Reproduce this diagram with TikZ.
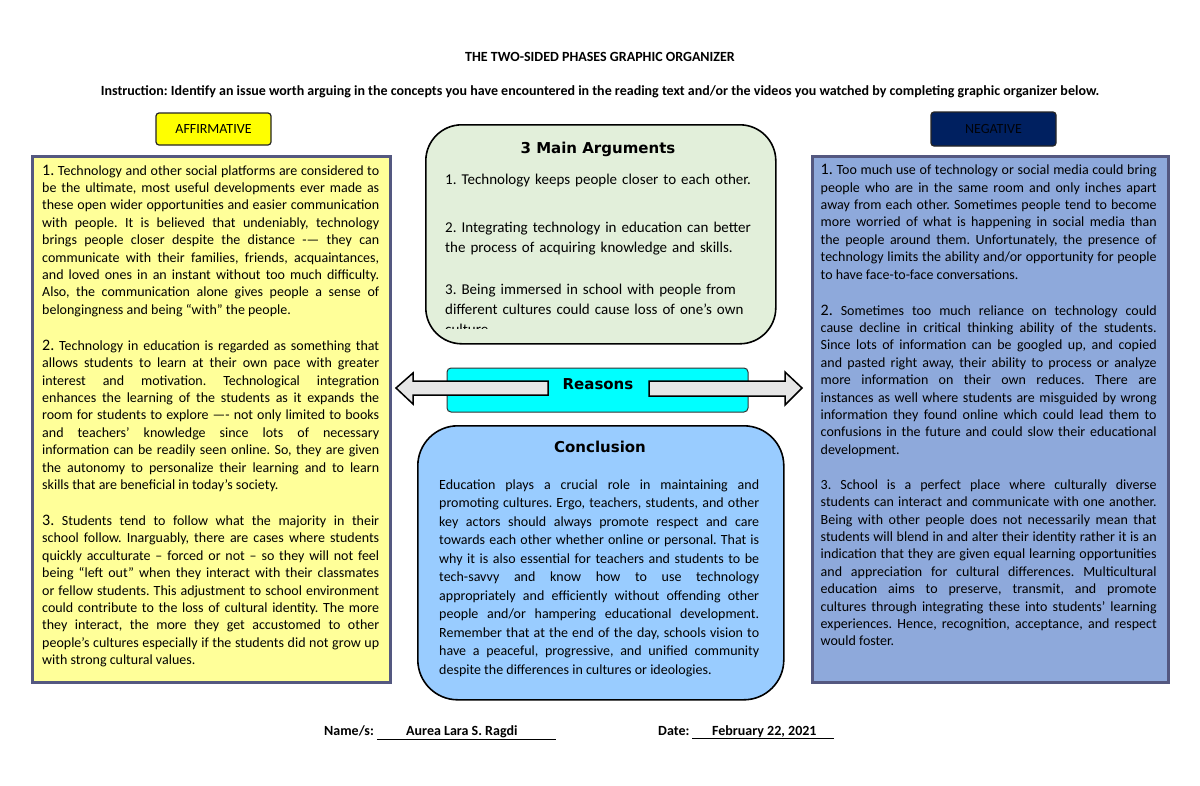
\documentclass[tikz,border=0pt]{standalone}
\usepackage{fontspec}
\setmainfont{Carlito}
\newfontfamily\headfont{DejaVu Sans}
\usepackage{tikz}
\usetikzlibrary{positioning}
\frenchspacing

\definecolor{affirmfill}{RGB}{255,255,153}
\definecolor{negfill}{RGB}{142,169,219}
\definecolor{argfill}{RGB}{226,239,218}
\definecolor{conclfill}{RGB}{153,204,255}
\definecolor{reasonfill}{RGB}{0,255,255}
\definecolor{arrowfill}{RGB}{230,230,230}
\definecolor{tagyellow}{RGB}{255,255,0}
\definecolor{tagnavy}{RGB}{0,32,96}
\definecolor{sideborder}{RGB}{84,88,128}

\newcommand{\bignum}[1]{{\fontsize{16}{17.4}\selectfont #1}}

\begin{document}
\begin{tikzpicture}[x=1pt,y=-1pt]

\tikzstyle{sidebox}=[draw=sideborder, line width=2.5pt, anchor=north west, inner sep=0pt]
\tikzstyle{sidetext}=[anchor=north west, inner sep=0pt, text width=337pt, align=justify, font=\fontsize{14}{17.4}\selectfont]
\tikzstyle{roundbox}=[draw=black, line width=1.6pt, rounded corners=36pt, anchor=north west, inner sep=0pt]
\tikzstyle{heading}=[anchor=base, inner sep=0pt, font=\headfont\bfseries\fontsize{15}{18}\selectfont]
\tikzstyle{tag}=[draw=black!85, line width=1.2pt, rounded corners=3pt, font=\fontsize{14}{17}\selectfont]
\tikzstyle{widearrow}=[draw=black, line width=1.5pt, fill=arrowfill, line join=miter]
\tikzstyle{header}=[anchor=base, inner sep=0pt, font=\bfseries\fontsize{14}{17}\selectfont]

\path[fill=white, use as bounding box] (0,0) rectangle (1200,785);

\node[header] (title) at (600,61) {THE TWO-SIDED PHASES GRAPHIC ORGANIZER};
\node[header] (instruction) at (600,95) {Instruction: Identify an issue worth arguing in the concepts you have encountered in the reading text and/or the videos you watched by completing graphic organizer below.};

\node[tag, fill=tagyellow, minimum width=115pt, minimum height=32pt] (affirmative) at (213.5,129) {AFFIRMATIVE};
\node[tag, fill=tagnavy, text=black!90!tagnavy, minimum width=125pt, minimum height=34pt] (negative) at (993.5,129) {NEGATIVE};

% affirmative side
\node[sidebox, fill=affirmfill, minimum width=358pt, minimum height=526pt] (affirm_box) at (31,155) {};
\node[sidetext] (affirm_text) at (42,162.8) {\strut\bignum{1.} Technology and other social platforms are considered to\linebreak
be the ultimate, most useful developments ever made as\linebreak
these open wider opportunities and easier communication\linebreak
with people. It is believed that undeniably, technology\linebreak
brings people closer despite the distance -— they can\linebreak
communicate with their families, friends, acquaintances,\linebreak
and loved ones in an instant without too much difficulty.\linebreak
Also, the communication alone gives people a sense of\linebreak
belongingness and being “with” the people.\par\vspace{18.6pt}
\bignum{2.} Technology in education is regarded as something that\linebreak
allows students to learn at their own pace with greater\linebreak
interest and motivation. Technological integration\linebreak
enhances the learning of the students as it expands the\linebreak
room for students to explore —- not only limited to books\linebreak
and teachers’ knowledge since lots of necessary\linebreak
information can be readily seen online. So, they are given\linebreak
the autonomy to personalize their learning and to learn\linebreak
skills that are beneficial in today’s society.\par\vspace{18.6pt}
\bignum{3.} Students tend to follow what the majority in their\linebreak
school follow. Inarguably, there are cases where students\linebreak
quickly acculturate – forced or not – so they will not feel\linebreak
being “left out” when they interact with their classmates\linebreak
or fellow students. This adjustment to school environment\linebreak
could contribute to the loss of cultural identity. The more\linebreak
they interact, the more they get accustomed to other\linebreak
people’s cultures especially if the students did not grow up\linebreak
with strong cultural values.};

% negative side
\node[sidebox, fill=negfill, minimum width=356pt, minimum height=526pt] (neg_box) at (811,155) {};
\node[sidetext, text width=336pt] (neg_text) at (820.5,162.3) {\strut\bignum{1.} Too much use of technology or social media could bring\linebreak
people who are in the same room and only inches apart\linebreak
away from each other. Sometimes people tend to become\linebreak
more worried of what is happening in social media than\linebreak
the people around them. Unfortunately, the presence of\linebreak
technology limits the ability and/or opportunity for people\linebreak
to have face-to-face conversations.\par\vspace{18.6pt}
\bignum{2.} Sometimes too much reliance on technology could\linebreak
cause decline in critical thinking ability of the students.\linebreak
Since lots of information can be googled up, and copied\linebreak
and pasted right away, their ability to process or analyze\linebreak
more information on their own reduces. There are\linebreak
instances as well where students are misguided by wrong\linebreak
information they found online which could lead them to\linebreak
confusions in the future and could slow their educational\linebreak
development.\par\vspace{17.6pt}
3. School is a perfect place where culturally diverse\linebreak
students can interact and communicate with one another.\linebreak
Being with other people does not necessarily mean that\linebreak
students will blend in and alter their identity rather it is an\linebreak
indication that they are given equal learning opportunities\linebreak
and appreciation for cultural differences. Multicultural\linebreak
education aims to preserve, transmit, and promote\linebreak
cultures through integrating these into students’ learning\linebreak
experiences. Hence, recognition, acceptance, and respect\linebreak
would foster.};

% main arguments
\node[roundbox, fill=argfill, minimum width=350pt, minimum height=219pt] (arg_box) at (425,124) {};
\node[heading] (arg_title) at (598,153) {3 Main Arguments};
\begin{scope}
\clip (425,124) rectangle (775,328);
\node[anchor=north west, inner sep=0pt, text width=325pt, align=left, font=\fontsize{15}{20}\selectfont] (arg_list) at (445,170) {\strut 1. Technology keeps people closer to each other.\\[28pt]
2. Integrating technology in education can better\\
the process of acquiring knowledge and skills.\\[22pt]
3. Being immersed in school with people from\\
different cultures could cause loss of one’s own\\
culture.};
\end{scope}

% reasons
\node[draw=black!80, line width=1pt, rounded corners=4pt, fill=reasonfill, minimum width=301pt, minimum height=44pt, inner sep=0pt] (reason_box) at (597.5,390) {};
\draw[widearrow] (396,388) -- (413,373) -- (413,381) -- (548,381) -- (548,395) -- (413,395) -- (413,404) -- cycle;
\draw[widearrow] (649,381) -- (785,381) -- (785,372) -- (802,388) -- (785,405) -- (785,396) -- (649,396) -- cycle;
\node[heading] (reason_title) at (598,389) {Reasons};

% conclusion
\node[roundbox, rounded corners=40pt, fill=conclfill, minimum width=366pt, minimum height=274pt] (concl_box) at (417,425) {};
\node[heading] (concl_title) at (600,452) {Conclusion};
\node[sidetext, text width=320pt, font=\fontsize{14}{18.5}\selectfont] (concl_text) at (439,476) {\strut Education plays a crucial role in maintaining and\linebreak
promoting cultures. Ergo, teachers, students, and other\linebreak
key actors should always promote respect and care\linebreak
towards each other whether online or personal. That is\linebreak
why it is also essential for teachers and students to be\linebreak
tech-savvy and know how to use technology\linebreak
appropriately and efficiently without offending other\linebreak
people and/or hampering educational development.\linebreak
Remember that at the end of the day, schools vision to\linebreak
have a peaceful, progressive, and unified community\linebreak
despite the differences in cultures or ideologies.};

% names and date
\node[header, anchor=base west] (name_label) at (324,735) {Name/s:};
\node[header, anchor=base west] (name_value) at (377,735) {\underline{\makebox[179pt][l]{\hspace{29pt}Aurea Lara S. Ragdi}}};
\node[header, anchor=base west] (date_label) at (658,735) {Date:};
\node[header, anchor=base west] (date_value) at (692,735) {\underline{\makebox[142pt][l]{\hspace{20pt}February 22, 2021}}};

\end{tikzpicture}
\end{document}
